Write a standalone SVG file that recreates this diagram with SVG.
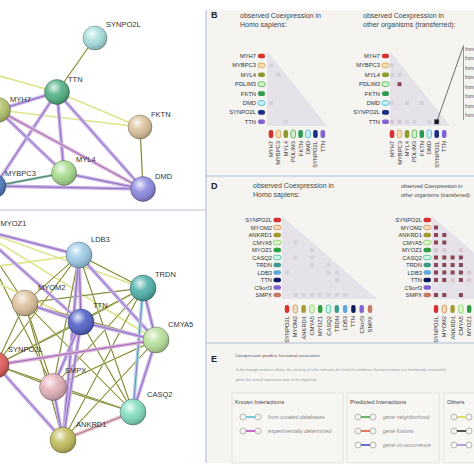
<svg xmlns="http://www.w3.org/2000/svg" width="474" height="474" viewBox="0 0 474 474">
<defs>
<radialGradient id="shine" cx="0.38" cy="0.32" r="0.68">
<stop offset="0" stop-color="#fff" stop-opacity="0.85"/>
<stop offset="0.45" stop-color="#fff" stop-opacity="0.1"/>
<stop offset="1" stop-color="#000" stop-opacity="0.22"/>
</radialGradient>
<style>
.bw{stroke:#c6b0e8;stroke-width:3.6;stroke-linecap:round}
.bc{stroke:#7e4fa6;stroke-width:0.7}
.tw{stroke:#dde489;stroke-width:1.5}
.tc{stroke:#3c3c2c;stroke-width:0.6}
.nd{stroke:rgba(0,0,0,0.35);stroke-width:0.8}
.nl{font-family:"Liberation Sans",Arial,sans-serif;font-size:7.5px;fill:#333}
.pt{font-family:"Liberation Sans",Arial,sans-serif;font-weight:bold;font-size:9px;fill:#222}
.ti{font-family:"Liberation Sans",Arial,sans-serif;font-size:7px;fill:#444}
.rl{font-family:"Liberation Sans",Arial,sans-serif;font-size:5.8px;fill:#333;text-anchor:end}
.tri{fill:#e5e3e9}
.fc{fill:#d5d1db}
.dc{fill:#8a4556}
.lc{fill:#d9c6cf}
.sep{stroke:#b4bfd4;stroke-width:1.2}
.box{fill:#f7f6f3;stroke:#e2dfda;stroke-width:0.8}
.lh{font-family:"Liberation Sans",Arial,sans-serif;font-size:5.8px;fill:#444}
.li{font-family:"Liberation Sans",Arial,sans-serif;font-size:5.4px;fill:#8a8a8a;font-style:italic}
.ic{fill:none;stroke:#999;stroke-width:0.7}
.fr{font-family:"Liberation Sans",Arial,sans-serif;font-size:4.6px;fill:#555}
</style>
</defs>
<rect width="474" height="474" fill="#fff"/>
<rect x="207" y="10" width="267" height="453" fill="#f5f4f1"/>
<line class="sep" x1="206" y1="10" x2="206" y2="463"/>
<line class="sep" x1="0" y1="210" x2="206" y2="210"/>
<line class="sep" x1="206" y1="176" x2="474" y2="176"/>
<line class="sep" x1="206" y1="343" x2="474" y2="343"/>

<g id="connectors">
<!-- top network -->
<line class="tw" x1="-40" y1="65" x2="57" y2="92"/>
<line class="tw" x1="57" y1="92" x2="140" y2="127"/>
<line class="tw" x1="-2" y1="110" x2="140" y2="127"/>
<line class="tw" x1="95" y1="38" x2="57" y2="92"/><line class="tc" x1="95" y1="38" x2="57" y2="92"/>
<line class="tw" x1="140" y1="127" x2="143" y2="189"/><line class="tc" x1="140" y1="127" x2="143" y2="189"/>
<line class="bw" x1="57" y1="92" x2="-2" y2="110"/><line class="bc" x1="57" y1="92" x2="-2" y2="110"/>
<line class="bw" x1="57" y1="92" x2="64" y2="173"/><line class="bc" x1="57" y1="92" x2="64" y2="173"/>
<line class="bw" x1="57" y1="92" x2="143" y2="189"/><line class="bc" x1="57" y1="92" x2="143" y2="189"/>
<line class="bw" x1="57" y1="92" x2="-5" y2="186"/><line class="bc" x1="57" y1="92" x2="-5" y2="186"/>
<line class="bw" x1="-2" y1="110" x2="64" y2="173"/><line class="bc" x1="-2" y1="110" x2="64" y2="173"/>
<line class="bw" x1="-2" y1="110" x2="143" y2="189" style="stroke:#dcb4d8"/><line class="bc" x1="-2" y1="110" x2="143" y2="189"/>
<line class="bw" x1="64" y1="173" x2="143" y2="189"/><line class="bc" x1="64" y1="173" x2="143" y2="189"/>
<line class="bw" x1="-5" y1="186" x2="143" y2="189"/><line class="bc" x1="-5" y1="186" x2="143" y2="189"/>
<line class="tw" x1="-5" y1="186" x2="64" y2="173" style="stroke:#8cc8b8;stroke-width:2.6"/><line class="tc" x1="-5" y1="186" x2="64" y2="173"/>
<!-- bottom network: thin edges -->
<line class="tw" x1="-25" y1="228" x2="25" y2="303"/><line class="tc" x1="-25" y1="228" x2="25" y2="303"/>
<line class="tw" x1="-25" y1="228" x2="143" y2="288"/>
<line class="tw" x1="-25" y1="228" x2="156" y2="340"/>
<line class="tw" x1="-25" y1="228" x2="53" y2="387"/><line class="tc" x1="-25" y1="228" x2="53" y2="387"/>
<line class="tw" x1="-30" y1="270" x2="81" y2="322"/>
<line class="tw" x1="-30" y1="270" x2="79" y2="255"/>
<line class="tw" x1="79" y1="255" x2="143" y2="288"/><line class="tc" x1="79" y1="255" x2="143" y2="288"/>
<line class="tw" x1="79" y1="255" x2="25" y2="303"/><line class="tc" x1="79" y1="255" x2="25" y2="303"/>
<line class="tw" x1="79" y1="255" x2="53" y2="387"/><line class="tc" x1="79" y1="255" x2="53" y2="387"/>
<line class="tw" x1="79" y1="255" x2="133" y2="412"/><line class="tc" x1="79" y1="255" x2="133" y2="412"/>
<line class="tw" x1="79" y1="255" x2="-4" y2="365"/><line class="tc" x1="79" y1="255" x2="-4" y2="365"/>
<line class="tw" x1="143" y1="288" x2="25" y2="303"/><line class="tc" x1="143" y1="288" x2="25" y2="303"/>
<line class="tw" x1="143" y1="288" x2="81" y2="322"/><line class="tc" x1="143" y1="288" x2="81" y2="322"/>
<line class="tw" x1="143" y1="288" x2="53" y2="387"/><line class="tc" x1="143" y1="288" x2="53" y2="387"/>
<line class="tw" x1="143" y1="288" x2="63" y2="440"/><line class="tc" x1="143" y1="288" x2="63" y2="440"/>
<line class="tw" x1="143" y1="288" x2="-4" y2="365"/><line class="tc" x1="143" y1="288" x2="-4" y2="365"/>
<line class="tw" x1="25" y1="303" x2="156" y2="340"/><line class="tc" x1="25" y1="303" x2="156" y2="340"/>
<line class="tw" x1="25" y1="303" x2="53" y2="387"/><line class="tc" x1="25" y1="303" x2="53" y2="387"/>
<line class="tw" x1="25" y1="303" x2="133" y2="412"/><line class="tc" x1="25" y1="303" x2="133" y2="412"/>
<line class="tw" x1="25" y1="303" x2="63" y2="440"/><line class="tc" x1="25" y1="303" x2="63" y2="440"/>
<line class="tw" x1="25" y1="303" x2="-4" y2="365"/><line class="tc" x1="25" y1="303" x2="-4" y2="365"/>
<line class="tw" x1="81" y1="322" x2="133" y2="412"/><line class="tc" x1="81" y1="322" x2="133" y2="412"/>
<line class="tw" x1="81" y1="322" x2="-4" y2="365"/><line class="tc" x1="81" y1="322" x2="-4" y2="365"/>
<line class="tw" x1="156" y1="340" x2="53" y2="387"/><line class="tc" x1="156" y1="340" x2="53" y2="387"/>
<line class="tw" x1="156" y1="340" x2="63" y2="440"/><line class="tc" x1="156" y1="340" x2="63" y2="440"/>
<line class="tw" x1="-4" y1="365" x2="53" y2="387"/><line class="tc" x1="-4" y1="365" x2="53" y2="387"/>
<line class="tw" x1="-4" y1="365" x2="133" y2="412"/><line class="tc" x1="-4" y1="365" x2="133" y2="412"/>
<line class="tw" x1="53" y1="387" x2="133" y2="412"/><line class="tc" x1="53" y1="387" x2="133" y2="412"/>
<!-- bottom network: bands -->
<line class="bw" x1="-25" y1="228" x2="79" y2="255"/><line class="bc" x1="-25" y1="228" x2="79" y2="255"/>
<line class="bw" x1="-25" y1="228" x2="81" y2="322"/><line class="bc" x1="-25" y1="228" x2="81" y2="322"/>
<line class="bw" x1="79" y1="255" x2="81" y2="322"/><line class="bc" x1="79" y1="255" x2="81" y2="322"/>
<line class="bw" x1="79" y1="255" x2="156" y2="340"/><line class="bc" x1="79" y1="255" x2="156" y2="340"/>
<line class="bw" x1="79" y1="255" x2="63" y2="440"/><line class="bc" x1="79" y1="255" x2="63" y2="440"/>
<line class="bw" x1="143" y1="288" x2="156" y2="340"/><line class="bc" x1="143" y1="288" x2="156" y2="340"/>
<line class="bw" x1="143" y1="288" x2="133" y2="412" style="stroke:#a8d8e0"/><line class="bc" x1="143" y1="288" x2="133" y2="412"/>
<line class="bw" x1="25" y1="303" x2="81" y2="322"/><line class="bc" x1="25" y1="303" x2="81" y2="322"/>
<line class="bw" x1="81" y1="322" x2="156" y2="340"/><line class="bc" x1="81" y1="322" x2="156" y2="340"/>
<line class="bw" x1="81" y1="322" x2="53" y2="387"/><line class="bc" x1="81" y1="322" x2="53" y2="387"/>
<line class="bw" x1="81" y1="322" x2="63" y2="440"/><line class="bc" x1="81" y1="322" x2="63" y2="440"/>
<line class="bw" x1="156" y1="340" x2="-4" y2="365" style="stroke:#dcb0d8"/><line class="bc" x1="156" y1="340" x2="-4" y2="365"/>
<line class="bw" x1="156" y1="340" x2="133" y2="412"/><line class="bc" x1="156" y1="340" x2="133" y2="412"/>
<line class="bw" x1="-4" y1="365" x2="63" y2="440"/><line class="bc" x1="-4" y1="365" x2="63" y2="440"/>
<line class="bw" x1="53" y1="387" x2="63" y2="440"/><line class="bc" x1="53" y1="387" x2="63" y2="440"/>
<line class="bw" x1="63" y1="440" x2="133" y2="412" style="stroke:#e6c2b8"/><line class="bc" x1="63" y1="440" x2="133" y2="412"/>
</g>

<!-- top network nodes -->
<g id="n-synpo2l-a"><circle class="nd" cx="95" cy="38" r="12" fill="#a6dede"/><circle cx="95" cy="38" r="12" fill="url(#shine)"/><text class="nl" x="106" y="27">SYNPO2L</text></g>
<g id="n-ttn-a"><circle class="nd" cx="57" cy="92" r="12.5" fill="#4fb082"/><circle cx="57" cy="92" r="12.5" fill="url(#shine)"/><text class="nl" x="68" y="82">TTN</text></g>
<g id="n-myh7"><circle class="nd" cx="-2" cy="110" r="12.5" fill="#b4c26a"/><circle cx="-2" cy="110" r="12.5" fill="url(#shine)"/><text class="nl" x="10" y="102">MYH7</text></g>
<g id="n-fktn"><circle class="nd" cx="140" cy="127" r="12" fill="#dcc29a"/><circle cx="140" cy="127" r="12" fill="url(#shine)"/><text class="nl" x="151" y="117">FKTN</text></g>
<g id="n-myl4"><circle class="nd" cx="64" cy="173" r="12.5" fill="#a6dc8c"/><circle cx="64" cy="173" r="12.5" fill="url(#shine)"/><text class="nl" x="76" y="162">MYL4</text></g>
<g id="n-mybpc3"><circle class="nd" cx="-6" cy="186" r="12" fill="#4a78c0"/><circle cx="-6" cy="186" r="12" fill="url(#shine)"/><text class="nl" x="5" y="176">MYBPC3</text></g>
<g id="n-dmd"><circle class="nd" cx="143" cy="189" r="12.5" fill="#8a88e0"/><circle cx="143" cy="189" r="12.5" fill="url(#shine)"/><text class="nl" x="155" y="179">DMD</text></g>

<!-- bottom network nodes -->
<g id="n-myoz1"><text class="nl" x="0.5" y="226">MYOZ1</text></g>
<g id="n-ldb3"><circle class="nd" cx="79" cy="255" r="13" fill="#9ccbe8"/><circle cx="79" cy="255" r="13" fill="url(#shine)"/><text class="nl" x="91" y="242">LDB3</text></g>
<g id="n-trdn"><circle class="nd" cx="143" cy="288" r="13" fill="#4cb0a8"/><circle cx="143" cy="288" r="13" fill="url(#shine)"/><text class="nl" x="155" y="277">TRDN</text></g>
<g id="n-myom2"><circle class="nd" cx="25" cy="303" r="13" fill="#dcc09a"/><circle cx="25" cy="303" r="13" fill="url(#shine)"/><text class="nl" x="38" y="290">MYOM2</text></g>
<g id="n-ttn-b"><circle class="nd" cx="81" cy="322" r="13" fill="#5060c8"/><circle cx="81" cy="322" r="13" fill="url(#shine)"/><text class="nl" x="93" y="308">TTN</text></g>
<g id="n-cmya5"><circle class="nd" cx="156" cy="340" r="13" fill="#b8e09a"/><circle cx="156" cy="340" r="13" fill="url(#shine)"/><text class="nl" x="168" y="327">CMYA5</text></g>
<g id="n-synpo2l-b"><circle class="nd" cx="-4" cy="365" r="13" fill="#e05a5a"/><circle cx="-4" cy="365" r="13" fill="url(#shine)"/><text class="nl" x="8" y="352">SYNPO2L</text></g>
<g id="n-smpx"><circle class="nd" cx="53" cy="387" r="13.5" fill="#e4b0b8"/><circle cx="53" cy="387" r="13.5" fill="url(#shine)"/><text class="nl" x="65" y="373">SMPX</text></g>
<g id="n-casq2"><circle class="nd" cx="133" cy="412" r="13" fill="#80dcc0"/><circle cx="133" cy="412" r="13" fill="url(#shine)"/><text class="nl" x="147" y="397">CASQ2</text></g>
<g id="n-ankrd1"><circle class="nd" cx="63" cy="440" r="13" fill="#c0bc5a"/><circle cx="63" cy="440" r="13" fill="url(#shine)"/><text class="nl" x="76" y="427">ANKRD1</text></g>

<!-- Panel B -->
<g id="panel-b">
<text class="pt" x="211" y="18">B</text>
<text class="ti" x="240" y="18">observed Coexpression in</text>
<text class="ti" x="240" y="27">Homo sapiens:</text>
<text class="ti" x="363" y="18">observed Coexpression in</text>
<text class="ti" x="363" y="27">other organisms (transferred):</text>
<polygon class="tri" points="267,51 267,126 327,126"/>
<polygon class="tri" points="390,51 390,126 450,126"/>
<g id="b-rows">
<text class="rl" x="256" y="58">MYH7</text><text class="rl" x="256" y="67.4">MYBPC3</text><text class="rl" x="256" y="76.8">MYL4</text><text class="rl" x="256" y="86.2">PDLIM3</text><text class="rl" x="256" y="95.6">FKTN</text><text class="rl" x="256" y="105">DMD</text><text class="rl" x="256" y="114.4">SYNPO2L</text><text class="rl" x="256" y="123.8">TTN</text>
<text class="rl" x="380" y="58">MYH7</text><text class="rl" x="380" y="67.4">MYBPC3</text><text class="rl" x="380" y="76.8">MYL4</text><text class="rl" x="380" y="86.2">PDLIM3</text><text class="rl" x="380" y="95.6">FKTN</text><text class="rl" x="380" y="105">DMD</text><text class="rl" x="380" y="114.4">SYNPO2L</text><text class="rl" x="380" y="123.8">TTN</text>
<rect x="258" y="53.7" width="7" height="4.6" rx="2" fill="#d83030"/><rect x="258" y="63.1" width="7" height="4.6" rx="2" fill="#f2dcb0" stroke="#d4a35a" stroke-width="0.8"/><rect x="258" y="72.5" width="7" height="4.6" rx="2" fill="#8e9a30"/><rect x="258" y="81.9" width="7" height="4.6" rx="2" fill="#d6f2c8" stroke="#4caf50" stroke-width="0.8"/><rect x="258" y="91.3" width="7" height="4.6" rx="2" fill="#2e9a50"/><rect x="258" y="100.7" width="7" height="4.6" rx="2" fill="#cdeff6" stroke="#3cb6d0" stroke-width="0.8"/><rect x="258" y="110.1" width="7" height="4.6" rx="2" fill="#1a2f80"/><rect x="258" y="119.5" width="7" height="4.6" rx="2" fill="#8262d2"/>
<rect x="382" y="53.7" width="7" height="4.6" rx="2" fill="#d83030"/><rect x="382" y="63.1" width="7" height="4.6" rx="2" fill="#f2dcb0" stroke="#d4a35a" stroke-width="0.8"/><rect x="382" y="72.5" width="7" height="4.6" rx="2" fill="#8e9a30"/><rect x="382" y="81.9" width="7" height="4.6" rx="2" fill="#d6f2c8" stroke="#4caf50" stroke-width="0.8"/><rect x="382" y="91.3" width="7" height="4.6" rx="2" fill="#2e9a50"/><rect x="382" y="100.7" width="7" height="4.6" rx="2" fill="#cdeff6" stroke="#3cb6d0" stroke-width="0.8"/><rect x="382" y="110.1" width="7" height="4.6" rx="2" fill="#1a2f80"/><rect x="382" y="119.5" width="7" height="4.6" rx="2" fill="#8262d2"/>
</g>
<g id="b-cols">
<rect x="268.7" y="130" width="4.6" height="8" rx="2" fill="#d83030"/><rect x="276.1" y="130" width="4.6" height="8" rx="2" fill="#f2dcb0" stroke="#d4a35a" stroke-width="0.8"/><rect x="283.5" y="130" width="4.6" height="8" rx="2" fill="#8e9a30"/><rect x="290.9" y="130" width="4.6" height="8" rx="2" fill="#d6f2c8" stroke="#4caf50" stroke-width="0.8"/><rect x="298.3" y="130" width="4.6" height="8" rx="2" fill="#2e9a50"/><rect x="305.7" y="130" width="4.6" height="8" rx="2" fill="#cdeff6" stroke="#3cb6d0" stroke-width="0.8"/><rect x="313.1" y="130" width="4.6" height="8" rx="2" fill="#1a2f80"/><rect x="320.5" y="130" width="4.6" height="8" rx="2" fill="#8262d2"/>
<rect x="389.7" y="130" width="4.6" height="8" rx="2" fill="#d83030"/><rect x="397.2" y="130" width="4.6" height="8" rx="2" fill="#f2dcb0" stroke="#d4a35a" stroke-width="0.8"/><rect x="404.7" y="130" width="4.6" height="8" rx="2" fill="#8e9a30"/><rect x="412.1" y="130" width="4.6" height="8" rx="2" fill="#d6f2c8" stroke="#4caf50" stroke-width="0.8"/><rect x="419.5" y="130" width="4.6" height="8" rx="2" fill="#2e9a50"/><rect x="427" y="130" width="4.6" height="8" rx="2" fill="#cdeff6" stroke="#3cb6d0" stroke-width="0.8"/><rect x="434.4" y="130" width="4.6" height="8" rx="2" fill="#1a2f80"/><rect x="441.9" y="130" width="4.6" height="8" rx="2" fill="#8262d2"/>
<text class="rl" transform="translate(273,141) rotate(-90)">MYH7</text><text class="rl" transform="translate(280.4,141) rotate(-90)">MYBPC3</text><text class="rl" transform="translate(287.8,141) rotate(-90)">MYL4</text><text class="rl" transform="translate(295.2,141) rotate(-90)">PDLIM3</text><text class="rl" transform="translate(302.6,141) rotate(-90)">FKTN</text><text class="rl" transform="translate(310,141) rotate(-90)">DMD</text><text class="rl" transform="translate(317.4,141) rotate(-90)">SYNPO2L</text><text class="rl" transform="translate(324.8,141) rotate(-90)">TTN</text>
<text class="rl" transform="translate(394,141) rotate(-90)">MYH7</text><text class="rl" transform="translate(401.5,141) rotate(-90)">MYBPC3</text><text class="rl" transform="translate(409,141) rotate(-90)">MYL4</text><text class="rl" transform="translate(416.4,141) rotate(-90)">PDLIM3</text><text class="rl" transform="translate(423.8,141) rotate(-90)">FKTN</text><text class="rl" transform="translate(431.3,141) rotate(-90)">DMD</text><text class="rl" transform="translate(438.7,141) rotate(-90)">SYNPO2L</text><text class="rl" transform="translate(446.2,141) rotate(-90)">TTN</text>
</g>
<g id="b-cells">
<rect class="fc" x="269" y="63.4" width="4" height="4"/><rect class="fc" x="276.4" y="72.8" width="4" height="4"/><rect class="fc" x="269" y="101" width="4" height="4"/><rect class="fc" x="283.8" y="119.8" width="4" height="4"/>
<rect class="fc" x="390" y="63.4" width="4" height="4"/><rect class="fc" x="390" y="72.8" width="4" height="4"/><rect class="fc" x="397.5" y="72.8" width="4" height="4"/><rect class="fc" x="390" y="101" width="4" height="4"/><rect class="fc" x="405" y="101" width="4" height="4"/><rect class="fc" x="419.8" y="101" width="4" height="4"/>
<rect class="lc" x="390" y="119.8" width="4" height="4"/><rect class="lc" x="397.5" y="119.8" width="4" height="4"/><rect class="fc" x="405" y="119.8" width="4" height="4"/><rect class="fc" x="412.4" y="119.8" width="4" height="4"/><rect class="fc" x="427.3" y="119.8" width="4" height="4"/>
<rect class="dc" x="397.5" y="82.2" width="4" height="4"/>
<rect x="434.5" y="119.6" width="4.4" height="4.4" fill="#111" stroke="#666" stroke-width="0.5"/>
</g>
<g id="b-callout">
<line x1="437" y1="121" x2="463" y2="47" stroke="#333" stroke-width="0.7"/>
<line x1="463.5" y1="45" x2="463.5" y2="120" stroke="#555" stroke-width="0.6"/>
<text class="fr" x="465" y="50.5">from</text><text class="fr" x="465" y="60">from</text><text class="fr" x="465" y="69.5">from</text><text class="fr" x="465" y="79">from</text><text class="fr" x="465" y="88.5">from</text><text class="fr" x="465" y="98">from</text><text class="fr" x="465" y="107.5">from</text><text class="fr" x="465" y="117">from</text>
</g>
</g>

<!-- Panel D -->
<g id="panel-d">
<text class="pt" x="211" y="189">D</text>
<text class="ti" x="253" y="188">observed Coexpression in</text>
<text class="ti" x="253" y="197">Homo sapiens:</text>
<text class="ti" x="401" y="188" style="font-size:5.3px">observed Coexpression in</text>
<text class="ti" x="401" y="197" style="font-size:5.3px">other organisms (transferred):</text>
<polygon class="tri" points="282,216 282,299 377,299"/>
<polygon class="tri" points="432,216 432,299 527,299"/>
<g id="d-rows">
<text class="rl" x="272" y="222">SYNPO2L</text><text class="rl" x="272" y="229.5">MYOM2</text><text class="rl" x="272" y="237">ANKRD1</text><text class="rl" x="272" y="244.5">CMYA5</text><text class="rl" x="272" y="252">MYOZ1</text><text class="rl" x="272" y="259.5">CASQ2</text><text class="rl" x="272" y="267">TRDN</text><text class="rl" x="272" y="274.5">LDB3</text><text class="rl" x="272" y="282">TTN</text><text class="rl" x="272" y="289.5">C9orf3</text><text class="rl" x="272" y="297">SMPX</text>
<text class="rl" x="422" y="222">SYNPO2L</text><text class="rl" x="422" y="229.5">MYOM2</text><text class="rl" x="422" y="237">ANKRD1</text><text class="rl" x="422" y="244.5">CMYA5</text><text class="rl" x="422" y="252">MYOZ1</text><text class="rl" x="422" y="259.5">CASQ2</text><text class="rl" x="422" y="267">TRDN</text><text class="rl" x="422" y="274.5">LDB3</text><text class="rl" x="422" y="282">TTN</text><text class="rl" x="422" y="289.5">C9orf3</text><text class="rl" x="422" y="297">SMPX</text>
<rect x="273.5" y="217.8" width="7.5" height="4.4" rx="2" fill="#d83030"/><rect x="273.5" y="225.3" width="7.5" height="4.4" rx="2" fill="#f4dcc0" stroke="#d09050" stroke-width="0.8"/><rect x="273.5" y="232.8" width="7.5" height="4.4" rx="2" fill="#a49a30"/><rect x="273.5" y="240.3" width="7.5" height="4.4" rx="2" fill="#e0f6d0" stroke="#7ccc5c" stroke-width="0.8"/><rect x="273.5" y="247.8" width="7.5" height="4.4" rx="2" fill="#2f9e40"/><rect x="273.5" y="255.3" width="7.5" height="4.4" rx="2" fill="#d2f4e6" stroke="#40c090" stroke-width="0.8"/><rect x="273.5" y="262.8" width="7.5" height="4.4" rx="2" fill="#3c9c8c"/><rect x="273.5" y="270.3" width="7.5" height="4.4" rx="2" fill="#5ea8dc"/><rect x="273.5" y="277.8" width="7.5" height="4.4" rx="2" fill="#0e1a60"/><rect x="273.5" y="285.3" width="7.5" height="4.4" rx="2" fill="#8262d2"/><rect x="273.5" y="292.8" width="7.5" height="4.4" rx="2" fill="#c87868"/>
<rect x="423.5" y="217.8" width="7.5" height="4.4" rx="2" fill="#d83030"/><rect x="423.5" y="225.3" width="7.5" height="4.4" rx="2" fill="#f4dcc0" stroke="#d09050" stroke-width="0.8"/><rect x="423.5" y="232.8" width="7.5" height="4.4" rx="2" fill="#a49a30"/><rect x="423.5" y="240.3" width="7.5" height="4.4" rx="2" fill="#e0f6d0" stroke="#7ccc5c" stroke-width="0.8"/><rect x="423.5" y="247.8" width="7.5" height="4.4" rx="2" fill="#2f9e40"/><rect x="423.5" y="255.3" width="7.5" height="4.4" rx="2" fill="#d2f4e6" stroke="#40c090" stroke-width="0.8"/><rect x="423.5" y="262.8" width="7.5" height="4.4" rx="2" fill="#3c9c8c"/><rect x="423.5" y="270.3" width="7.5" height="4.4" rx="2" fill="#5ea8dc"/><rect x="423.5" y="277.8" width="7.5" height="4.4" rx="2" fill="#0e1a60"/><rect x="423.5" y="285.3" width="7.5" height="4.4" rx="2" fill="#8262d2"/><rect x="423.5" y="292.8" width="7.5" height="4.4" rx="2" fill="#c87868"/>
</g>
<g id="d-cols">
<rect x="284.8" y="305" width="4.4" height="8" rx="2" fill="#d83030"/><rect x="293.1" y="305" width="4.4" height="8" rx="2" fill="#f4dcc0" stroke="#d09050" stroke-width="0.8"/><rect x="301.4" y="305" width="4.4" height="8" rx="2" fill="#a49a30"/><rect x="309.7" y="305" width="4.4" height="8" rx="2" fill="#e0f6d0" stroke="#7ccc5c" stroke-width="0.8"/><rect x="318" y="305" width="4.4" height="8" rx="2" fill="#2f9e40"/><rect x="326.3" y="305" width="4.4" height="8" rx="2" fill="#d2f4e6" stroke="#40c090" stroke-width="0.8"/><rect x="334.6" y="305" width="4.4" height="8" rx="2" fill="#3c9c8c"/><rect x="342.9" y="305" width="4.4" height="8" rx="2" fill="#5ea8dc"/><rect x="351.2" y="305" width="4.4" height="8" rx="2" fill="#0e1a60"/><rect x="359.5" y="305" width="4.4" height="8" rx="2" fill="#8262d2"/><rect x="367.8" y="305" width="4.4" height="8" rx="2" fill="#c87868"/>
<rect x="433.8" y="305" width="4.4" height="8" rx="2" fill="#d83030"/><rect x="442.1" y="305" width="4.4" height="8" rx="2" fill="#f4dcc0" stroke="#d09050" stroke-width="0.8"/><rect x="450.4" y="305" width="4.4" height="8" rx="2" fill="#a49a30"/><rect x="458.7" y="305" width="4.4" height="8" rx="2" fill="#e0f6d0" stroke="#7ccc5c" stroke-width="0.8"/><rect x="467" y="305" width="4.4" height="8" rx="2" fill="#2f9e40"/>
<text class="rl" transform="translate(289,316) rotate(-90)">SYNPO2L</text><text class="rl" transform="translate(297.3,316) rotate(-90)">MYOM2</text><text class="rl" transform="translate(305.6,316) rotate(-90)">ANKRD1</text><text class="rl" transform="translate(313.9,316) rotate(-90)">CMYA5</text><text class="rl" transform="translate(322.2,316) rotate(-90)">MYOZ1</text><text class="rl" transform="translate(330.5,316) rotate(-90)">CASQ2</text><text class="rl" transform="translate(338.8,316) rotate(-90)">TRDN</text><text class="rl" transform="translate(347.1,316) rotate(-90)">LDB3</text><text class="rl" transform="translate(355.4,316) rotate(-90)">TTN</text><text class="rl" transform="translate(363.7,316) rotate(-90)">C9orf3</text><text class="rl" transform="translate(372,316) rotate(-90)">SMPX</text>
<text class="rl" transform="translate(438,316) rotate(-90)">SYNPO2L</text><text class="rl" transform="translate(446.3,316) rotate(-90)">MYOM2</text><text class="rl" transform="translate(454.6,316) rotate(-90)">ANKRD1</text><text class="rl" transform="translate(462.9,316) rotate(-90)">CMYA5</text><text class="rl" transform="translate(471.2,316) rotate(-90)">MYOZ1</text>
</g>
<g id="d-cells">
<rect class="fc" x="293.5" y="240.5" width="4" height="4"/><rect class="fc" x="310" y="248" width="4" height="4"/><rect class="fc" x="293.5" y="255.5" width="4" height="4"/><rect class="fc" x="310" y="255.5" width="4" height="4"/><rect class="fc" x="310" y="263" width="4" height="4"/><rect class="fc" x="326.5" y="263" width="4" height="4"/><rect class="fc" x="285" y="270.5" width="4" height="4"/><rect class="fc" x="326.5" y="270.5" width="4" height="4"/><rect class="fc" x="335" y="270.5" width="4" height="4"/><rect class="fc" x="335" y="278" width="4" height="4"/>
<rect class="fc" x="293.5" y="293" width="4" height="4"/><rect class="fc" x="301.6" y="293" width="4" height="4"/><rect class="fc" x="310" y="293" width="4" height="4"/><rect class="fc" x="318.2" y="293" width="4" height="4"/><rect class="fc" x="326.5" y="293" width="4" height="4"/><rect class="fc" x="335" y="293" width="4" height="4"/><rect class="fc" x="343.1" y="293" width="4" height="4"/>
<rect class="dc" x="434" y="225.5" width="4" height="4"/>
<rect class="dc" x="434" y="233" width="4" height="4"/><rect class="dc" x="442.3" y="233" width="4" height="4"/>
<rect class="dc" x="434" y="240.5" width="4" height="4"/><rect class="dc" x="442.3" y="240.5" width="4" height="4"/>
<rect class="lc" x="434" y="248" width="4" height="4"/><rect class="lc" x="442.3" y="248" width="4" height="4"/><rect class="lc" x="458.9" y="248" width="4" height="4"/>
<rect class="dc" x="434" y="255.5" width="4" height="4"/><rect class="dc" x="442.3" y="255.5" width="4" height="4"/><rect class="dc" x="450.6" y="255.5" width="4" height="4"/><rect class="dc" x="458.9" y="255.5" width="4" height="4"/>
<rect class="dc" x="434" y="263" width="4" height="4"/><rect class="dc" x="442.3" y="263" width="4" height="4"/><rect class="dc" x="450.6" y="263" width="4" height="4"/><rect class="dc" x="458.9" y="263" width="4" height="4"/>
<rect class="dc" x="434" y="270.5" width="4" height="4"/><rect class="dc" x="442.3" y="270.5" width="4" height="4"/><rect class="dc" x="450.6" y="270.5" width="4" height="4"/><rect class="dc" x="458.9" y="270.5" width="4" height="4"/><rect class="lc" x="467.2" y="270.5" width="4" height="4"/>
<rect class="dc" x="434" y="278" width="4" height="4"/><rect class="dc" x="442.3" y="278" width="4" height="4"/><rect class="lc" x="450.6" y="278" width="4" height="4"/><rect class="dc" x="458.9" y="278" width="4" height="4"/><rect class="lc" x="467.2" y="278" width="4" height="4"/>
<rect class="dc" x="434" y="293" width="4" height="4"/><rect class="dc" x="442.3" y="293" width="4" height="4"/><rect class="dc" x="458.9" y="293" width="4" height="4"/>
</g>
</g>

<!-- Panel E -->
<g id="panel-e">
<text class="pt" x="211" y="362">E</text>
<text x="235" y="357" style="font-family:'Liberation Sans',Arial,sans-serif;font-size:4.3px;fill:#555">Coexpression predicts functional association</text>
<text x="236" y="371" style="font-family:'Liberation Sans',Arial,sans-serif;font-size:3.7px;fill:#999;font-style:italic">In the triangle matrices above, the intensity of color indicates the level of confidence that two proteins are functionally associated,</text>
<text x="236" y="381" style="font-family:'Liberation Sans',Arial,sans-serif;font-size:3.7px;fill:#999;font-style:italic">given the overall expression data in the organism.</text>
<rect class="box" x="232" y="393" width="111" height="70"/>
<rect class="box" x="347" y="393" width="92" height="70"/>
<rect class="box" x="444" y="393" width="40" height="70"/>
<text class="lh" x="235" y="404">Known Interactions</text>
<text class="lh" x="350" y="404">Predicted Interactions</text>
<text class="lh" x="447" y="404">Others</text>
<g id="legend-icons">
<circle class="ic" cx="243" cy="417" r="3"/><circle class="ic" cx="258" cy="417" r="3"/><line x1="246" y1="417" x2="255" y2="417" stroke="#3ab8c8" stroke-width="1.4"/>
<circle class="ic" cx="243" cy="431" r="3"/><circle class="ic" cx="258" cy="431" r="3"/><line x1="246" y1="431" x2="255" y2="431" stroke="#b02eb8" stroke-width="1.4"/>
<circle class="ic" cx="358" cy="417" r="3"/><circle class="ic" cx="373" cy="417" r="3"/><line x1="361" y1="417" x2="370" y2="417" stroke="#2a9a2a" stroke-width="1.4"/>
<circle class="ic" cx="358" cy="431" r="3"/><circle class="ic" cx="373" cy="431" r="3"/><line x1="361" y1="431" x2="370" y2="431" stroke="#e0401c" stroke-width="1.4"/>
<circle class="ic" cx="358" cy="445" r="3"/><circle class="ic" cx="373" cy="445" r="3"/><line x1="361" y1="445" x2="370" y2="445" stroke="#2038c0" stroke-width="1.4"/>
<circle class="ic" cx="454" cy="417" r="3"/><circle class="ic" cx="469" cy="417" r="3"/><line x1="457" y1="417" x2="466" y2="417" stroke="#d8d030" stroke-width="1.4"/>
<circle class="ic" cx="454" cy="431" r="3"/><circle class="ic" cx="469" cy="431" r="3"/><line x1="457" y1="431" x2="466" y2="431" stroke="#111" stroke-width="1.4"/>
<circle class="ic" cx="454" cy="445" r="3"/><circle class="ic" cx="469" cy="445" r="3"/><line x1="457" y1="445" x2="466" y2="445" stroke="#8a86d8" stroke-width="1.4"/>
</g>
<text class="li" x="268" y="419">from curated databases</text>
<text class="li" x="268" y="433">experimentally determined</text>
<text class="li" x="383" y="419">gene neighborhood</text>
<text class="li" x="383" y="433">gene fusions</text>
<text class="li" x="383" y="447">gene co-occurrence</text>
</g>
</svg>
